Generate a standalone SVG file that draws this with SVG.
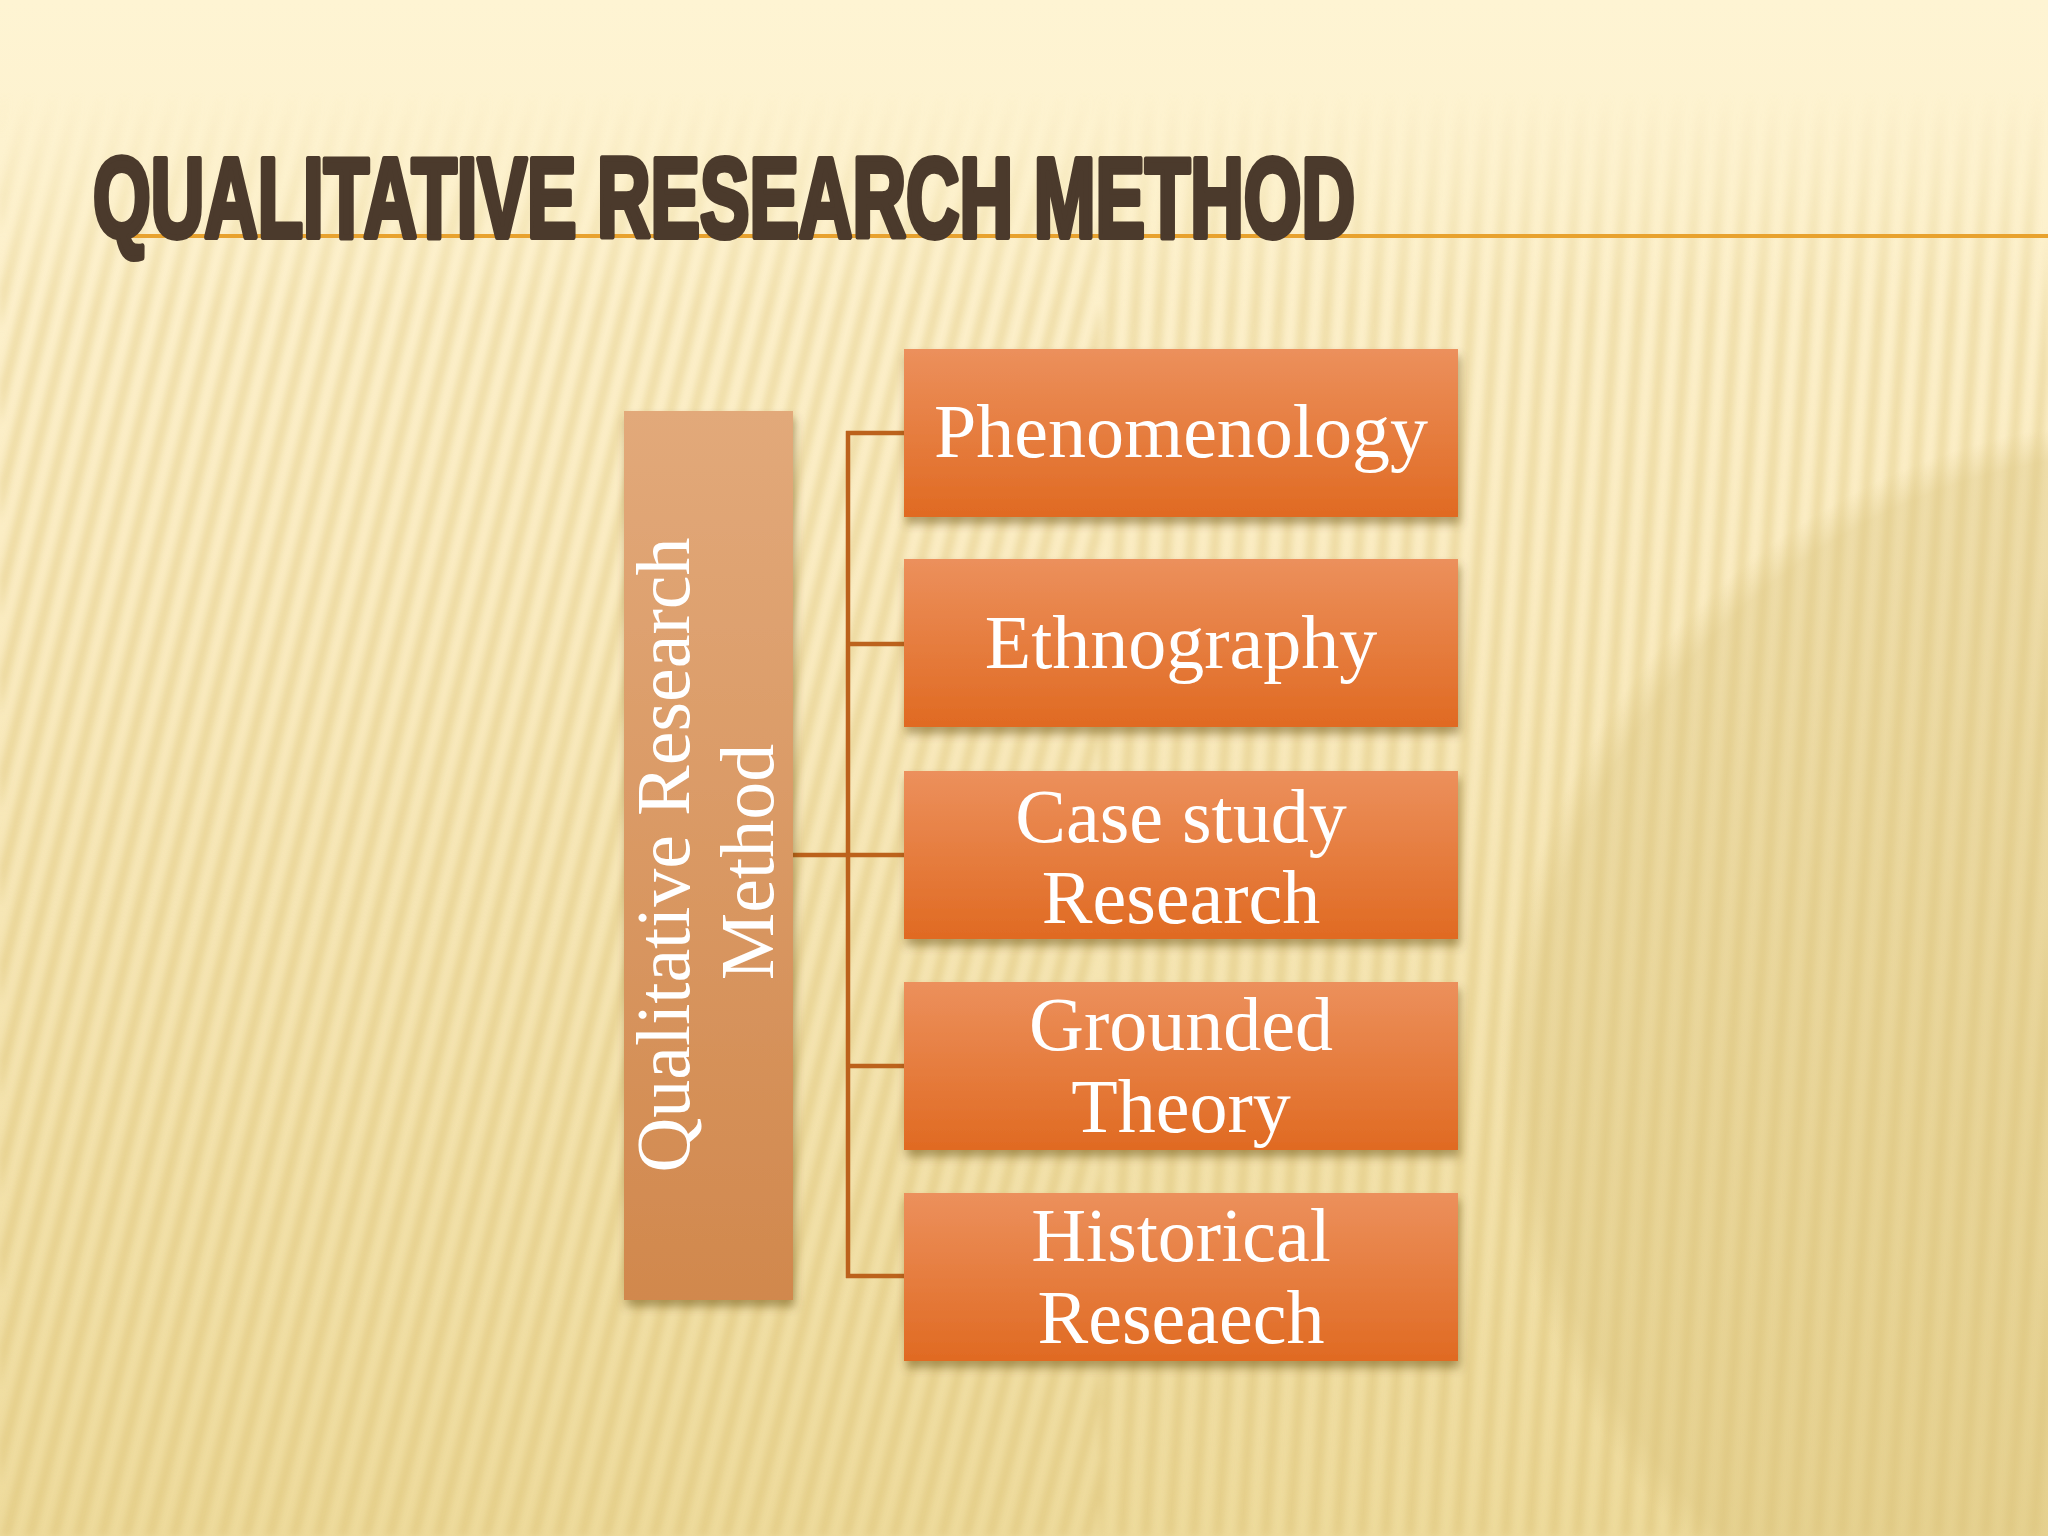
<svg xmlns="http://www.w3.org/2000/svg" width="2048" height="1536" viewBox="0 0 2048 1536">
  <style>
    .box { fill: url(#boxGrad); filter: url(#shadow); }
    .lbl { font-family: "Liberation Serif", "Times New Roman", serif; font-size: 76px; fill: #FFFFFF; text-anchor: middle; }
    .conn { stroke: #BC621C; stroke-width: 4.5; fill: none; }
  </style>
  <defs>
    <linearGradient id="bgGrad" x1="0" y1="0" x2="0" y2="1">
      <stop offset="0" stop-color="#FEF4D3"/>
      <stop offset="0.35" stop-color="#FBEDC4"/>
      <stop offset="1" stop-color="#EEDB9C"/>
    </linearGradient>
    <linearGradient id="boxGrad" x1="0" y1="0" x2="0" y2="1">
      <stop offset="0" stop-color="#EC905C"/>
      <stop offset="1" stop-color="#E06A22"/>
    </linearGradient>
    <linearGradient id="leftGrad" x1="0" y1="0" x2="0" y2="1">
      <stop offset="0" stop-color="#E2A97A"/>
      <stop offset="1" stop-color="#D1884D"/>
    </linearGradient>
    <pattern id="stripesL" width="24" height="40" patternUnits="userSpaceOnUse" patternTransform="skewX(-14)">
      <rect x="0" y="0" width="10" height="40" fill="#E0C880"/>
    </pattern>
    <pattern id="stripesR" width="24" height="40" patternUnits="userSpaceOnUse" patternTransform="skewX(-4)">
      <rect x="0" y="0" width="10" height="40" fill="#E0C880"/>
    </pattern>
    <linearGradient id="fadeV" x1="0" y1="0" x2="0" y2="1">
      <stop offset="0" stop-color="#fff" stop-opacity="0"/>
      <stop offset="0.06" stop-color="#fff" stop-opacity="0"/>
      <stop offset="0.2" stop-color="#fff" stop-opacity="0.45"/>
      <stop offset="1" stop-color="#fff" stop-opacity="0.7"/>
    </linearGradient>
    <mask id="maskV">
      <rect x="0" y="0" width="2048" height="1536" fill="url(#fadeV)"/>
    </mask>
    <radialGradient id="shade" cx="0.5" cy="0.5" r="0.5">
      <stop offset="0" stop-color="#D9C27C" stop-opacity="0.45"/>
      <stop offset="0.95" stop-color="#D9C27C" stop-opacity="0.38"/>
      <stop offset="1" stop-color="#D9C27C" stop-opacity="0"/>
    </radialGradient>
    <filter id="blur8"><feGaussianBlur stdDeviation="3.5"/></filter>
    <filter id="shadow" x="-5%" y="-10%" width="112%" height="130%">
      <feDropShadow dx="2" dy="7" stdDeviation="5" flood-color="#5A4010" flood-opacity="0.45"/>
    </filter>
  </defs>

  <!-- background -->
  <rect x="0" y="0" width="2048" height="1536" fill="url(#bgGrad)"/>
  <g mask="url(#maskV)" filter="url(#blur8)">
    <rect x="0" y="0" width="1100" height="1536" fill="url(#stripesL)"/>
    <rect x="1100" y="0" width="948" height="1536" fill="url(#stripesR)"/>
  </g>
  <ellipse cx="2150" cy="1080" rx="650" ry="660" fill="url(#shade)"/>

  <!-- title -->
  <line x1="128" y1="236" x2="2048" y2="236" stroke="#E8A22E" stroke-width="4"/>
  <text x="93" y="237" font-family="Liberation Sans, Arial, sans-serif" font-weight="bold" font-size="113" fill="#4B3A2C" stroke="#4B3A2C" stroke-width="6" stroke-linejoin="round" textLength="1262" lengthAdjust="spacingAndGlyphs">QUALITATIVE RESEARCH METHOD</text>

  <!-- connectors -->
  <g id="connectors">
    <line class="conn" x1="793" y1="855" x2="848" y2="855"/>
    <line class="conn" x1="848" y1="431" x2="848" y2="1278"/>
    <line class="conn" x1="846" y1="433" x2="904" y2="433"/>
    <line class="conn" x1="846" y1="644" x2="904" y2="644"/>
    <line class="conn" x1="846" y1="855" x2="904" y2="855"/>
    <line class="conn" x1="846" y1="1066" x2="904" y2="1066"/>
    <line class="conn" x1="846" y1="1276" x2="904" y2="1276"/>
  </g>

  <!-- root node -->
  <g id="node-root">
    <rect x="624" y="411" width="169" height="889" fill="url(#leftGrad)" filter="url(#shadow)"/>
    <text class="lbl" transform="translate(689,855) rotate(-90)">Qualitative Research</text>
    <text class="lbl" transform="translate(773,862) rotate(-90)">Method</text>
  </g>

  <g id="node-phenomenology">
    <rect class="box" x="904" y="349" width="554" height="168"/>
    <text class="lbl" x="1181" y="457">Phenomenology</text>
  </g>
  <g id="node-ethnography">
    <rect class="box" x="904" y="559" width="554" height="168"/>
    <text class="lbl" x="1181" y="668">Ethnography</text>
  </g>
  <g id="node-casestudy">
    <rect class="box" x="904" y="771" width="554" height="168"/>
    <text class="lbl" x="1181" y="842">Case study</text>
    <text class="lbl" x="1181" y="923">Research</text>
  </g>
  <g id="node-grounded">
    <rect class="box" x="904" y="982" width="554" height="168"/>
    <text class="lbl" x="1181" y="1050">Grounded</text>
    <text class="lbl" x="1181" y="1132">Theory</text>
  </g>
  <g id="node-historical">
    <rect class="box" x="904" y="1193" width="554" height="168"/>
    <text class="lbl" x="1181" y="1261">Historical</text>
    <text class="lbl" x="1181" y="1343">Reseaech</text>
  </g>
</svg>
